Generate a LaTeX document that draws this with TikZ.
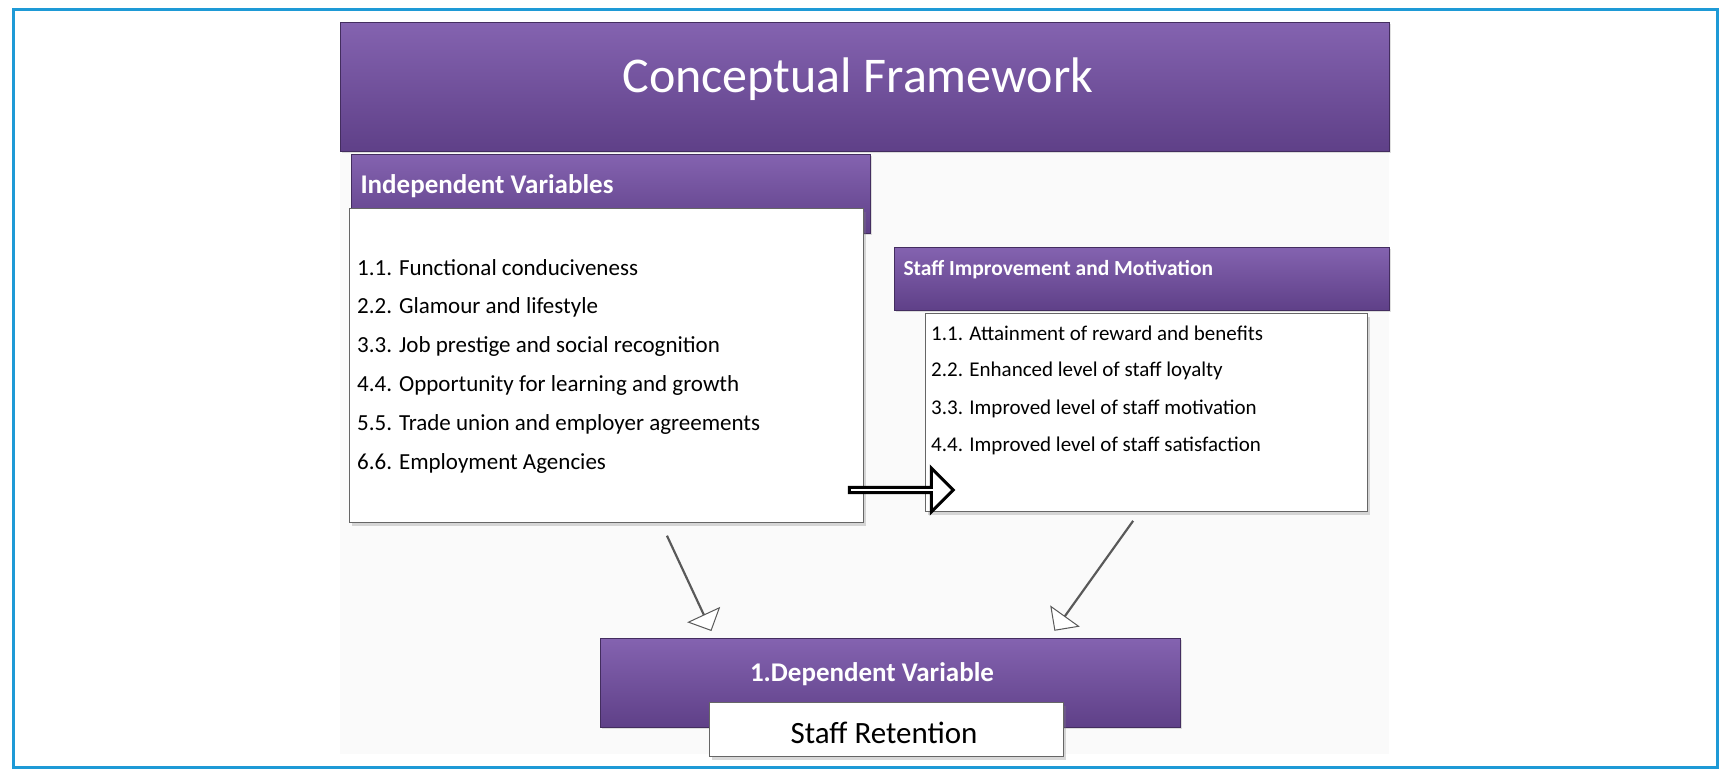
\documentclass[tikz,border=0pt]{standalone}
\usepackage{fontspec}
\setmainfont{Carlito}
\usetikzlibrary{shapes.arrows,shadows,calc}
\definecolor{pTop}{HTML}{8463B0}
\definecolor{pBot}{HTML}{5F4088}
\definecolor{frameblue}{HTML}{1E9AD6}
\begin{document}
\begin{tikzpicture}[x=1pt,y=-1pt,
  pband/.style={draw=pBot!70!black,line width=0.6pt,top color=pTop,bottom color=pBot,drop shadow={opacity=0.25}},
  wbox/.style={draw=gray!80!black,line width=1pt,fill=white,drop shadow={opacity=0.3,shadow xshift=2pt,shadow yshift=-3pt}},
  htext/.style={text=white,font=\bfseries},
  item/.style={anchor=west,inner sep=0pt},
  blockarrow/.style={single arrow,draw=gray!70!black,fill=white,line width=1pt,single arrow head extend=14pt,minimum width=34pt,inner sep=0pt}
]
\useasboundingbox (0,0) rectangle (1734,774);
\fill[white] (0,0) rectangle (1734,774);
\draw[frameblue,line width=3pt] (13,9) rectangle (1717,767);
\fill[gray!4] (340,22) rectangle (1389,754);
% title
\draw[pband] (340,22) rectangle (1389,151);
\node[text=white,font=\fontsize{50}{55}\selectfont] (title) at (858,79) {Conceptual Framework};
% independent
\draw[pband] (351,154) rectangle (870,233);
\node[htext,anchor=west,font=\bfseries\fontsize{27}{30}\selectfont] (indh) at (357,186) {Independent Variables};
\node[wbox,minimum width=514pt,minimum height=314pt,anchor=north west] (indbox) at (349,208) {};
\foreach \t [count=\i] in {1.1. Functional conduciveness,2.2. Glamour and lifestyle,3.3. Job prestige and social recognition,4.4. Opportunity for learning and growth,5.5. Trade union and employer agreements,6.6. Employment Agencies}
  \node[item,font=\fontsize{23}{26}\selectfont] (ind\i) at (357,{268+39*(\i-1)}) {\t};
% staff improvement
\draw[pband] (894,247) rectangle (1389,310);
\node[htext,anchor=west,font=\bfseries\fontsize{21.5}{24}\selectfont] (simh) at (900,270) {Staff Improvement and Motivation};
\node[wbox,minimum width=442pt,minimum height=198pt,anchor=north west] (simbox) at (925,313) {};
\foreach \t [count=\i] in {1.1. Attainment of reward and benefits,2.2. Enhanced level of staff loyalty,3.3. Improved level of staff motivation,4.4. Improved level of staff satisfaction}
  \node[item,font=\fontsize{21}{24}\selectfont] (sim\i) at (931,{333+37.7*(\i-1)}) {\t};
% dependent
\draw[pband] (600,638) rectangle (1180,727);
\node[htext,font=\bfseries\fontsize{27}{30}\selectfont] (deph) at (872,674) {1.Dependent Variable};
\node[wbox,minimum width=354pt,minimum height=54pt,anchor=north west] (retbox) at (709,702) {};
\node[font=\fontsize{31}{34}\selectfont] (ret) at (884,733) {Staff Retention};
% arrows
\node[single arrow,draw=black,fill=white,line width=3pt,minimum height=104pt,minimum width=44pt,single arrow head extend=11pt,inner sep=0pt] (harrow) at (900,490) {};
\coordinate (a1s) at (667,536); \coordinate (a1e) at (711,630);
\node[blockarrow,minimum height=104pt,rotate=-65] (larrow) at ($ (a1s)!0.5!(a1e) $) {};
\coordinate (a2s) at (1133,521); \coordinate (a2e) at (1055,630);
\node[blockarrow,minimum height=134pt,rotate=-125.6] (rarrow) at ($ (a2s)!0.5!(a2e) $) {};
\end{tikzpicture}
\end{document}
